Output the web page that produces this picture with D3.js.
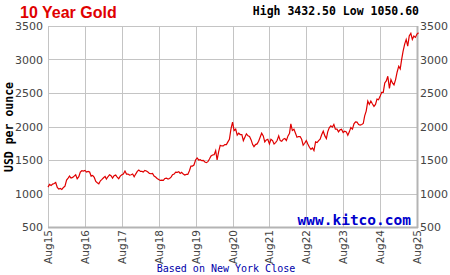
<!DOCTYPE html>
<html>
<head>
<meta charset="utf-8">
<script src="https://cdn.jsdelivr.net/npm/d3@7"></script>
<style>
body { margin: 0; background: #fff; }
svg { display: block; }
</style>
</head>
<body>
<div id="chart"></div>
<script>
// semi-monthly closes (1st and 16th of each month)
var p2015 = [1095, 1135, 1120, 1140, 1150, 1165, 1090, 1065, 1075, 1060]; // Aug-Dec
var p2016 = [1090, 1110, 1200, 1230, 1260, 1230, 1240, 1260, 1280, 1220, 1250, 1320,
             1340, 1335, 1345, 1320, 1330, 1320, 1260, 1270, 1240, 1180, 1160, 1145];
var p2017 = [1190, 1210, 1235, 1255, 1215, 1250, 1280, 1265, 1230, 1265, 1275, 1245,
             1220, 1260, 1280, 1290, 1335, 1290, 1290, 1275, 1280, 1290, 1250, 1290];
var p2018 = [1330, 1350, 1330, 1330, 1320, 1345, 1335, 1320, 1300, 1295, 1300, 1260,
             1245, 1225, 1210, 1195, 1200, 1195, 1225, 1230, 1215, 1225, 1245, 1280];
var p2019 = [1290, 1320, 1315, 1325, 1300, 1315, 1290, 1275, 1285, 1285, 1340, 1410,
             1410, 1425, 1500, 1530, 1500, 1505, 1490, 1495, 1470, 1460, 1475, 1515];
var p2020 = [1560, 1575, 1580, 1640, 1500, 1620, 1720, 1710, 1710, 1730, 1730, 1770,
             1810, 1960, 2067, 1940, 1960, 1870, 1900, 1880, 1880, 1790, 1840, 1890];
var p2021 = [1860, 1850, 1800, 1730, 1700, 1730, 1740, 1780, 1840, 1900, 1860, 1770,
             1800, 1810, 1740, 1810, 1790, 1740, 1760, 1790, 1860, 1790, 1780, 1810];
var p2022 = [1820, 1790, 1860, 1900, 2040, 1940, 1960, 1900, 1840, 1850, 1850, 1810,
             1720, 1750, 1790, 1740, 1690, 1660, 1680, 1640, 1770, 1760, 1790, 1810];
var p2023 = [1880, 1930, 1860, 1820, 1920, 1980, 2010, 1990, 2030, 1960, 1960, 1920,
             1950, 1960, 1910, 1930, 1920, 1870, 1920, 1985, 1960, 2040, 2070, 2065];
var p2024 = [2030, 2020, 2030, 2045, 2160, 2230, 2380, 2330, 2380, 2340, 2300, 2330,
             2410, 2400, 2450, 2510, 2510, 2650, 2680, 2750, 2570, 2700, 2650, 2620];
var p2025 = [2700, 2810, 2900, 2860, 2990, 3120, 3230, 3300, 3200, 3350, 3390, 3300,
             3350, 3330, 3380, 3400]; // Jan-Aug

var yTicks = [500, 1000, 1500, 2000, 2500, 3000, 3500];
var xTickYears = [2015, 2016, 2017, 2018, 2019, 2020, 2021, 2022, 2023, 2024, 2025];

var titleText = '10 Year Gold';
var rangeText = 'High 3432.50 Low 1050.60';
var yLabel = 'USD per ounce';
var sourceText = 'www.kitco.com';
var footText = 'Based on New York Close';

// build dated series
var allPrices = [].concat(p2015, p2016, p2017, p2018, p2019, p2020, p2021, p2022, p2023, p2024, p2025);
var data = [];
for (var i = 0; i < allPrices.length; i++) {
    var m = 7 + Math.floor(i / 2); // months from Jan 2015
    var day = (i % 2 === 0) ? 1 : 16;
    data.push({ date: new Date(2015, m, day), price: allPrices[i] });
}

var width = 450;
var height = 275;
var plotLeft = 48, plotRight = 417, plotTop = 26, plotBottom = 227;

var svg = d3.select('#chart').append('svg')
    .attr('width', width)
    .attr('height', height);

var x = d3.scaleTime()
    .domain([new Date(2015, 7, 1), new Date(2025, 7, 1)])
    .range([plotLeft, plotRight]);
var y = d3.scaleLinear().domain([500, 3500]).range([plotBottom, plotTop]);

// grid
svg.selectAll('.vgrid')
    .data(xTickYears)
    .enter().append('line')
    .attr('x1', function (d) { return Math.round(x(new Date(d, 7, 1))) + 0.5; })
    .attr('x2', function (d) { return Math.round(x(new Date(d, 7, 1))) + 0.5; })
    .attr('y1', plotTop)
    .attr('y2', plotBottom)
    .attr('stroke', '#c4c4c4')
    .attr('stroke-width', 1);

svg.selectAll('.hgrid')
    .data(yTicks)
    .enter().append('line')
    .attr('x1', plotLeft)
    .attr('x2', plotRight)
    .attr('y1', function (d) { return Math.round(y(d)) + 0.5; })
    .attr('y2', function (d) { return Math.round(y(d)) + 0.5; })
    .attr('stroke', '#c4c4c4')
    .attr('stroke-width', 1);

// right and bottom frame, a bit heavier
svg.append('line')
    .attr('x1', plotRight + 0.5).attr('x2', plotRight + 0.5)
    .attr('y1', plotTop).attr('y2', plotBottom + 1)
    .attr('stroke', '#b4b4b4').attr('stroke-width', 2);
svg.append('line')
    .attr('x1', plotLeft).attr('x2', plotRight + 1)
    .attr('y1', plotBottom + 0.5).attr('y2', plotBottom + 0.5)
    .attr('stroke', '#b4b4b4').attr('stroke-width', 2);

// y tick labels, both sides
var tickFont = '"DejaVu Sans", Verdana, sans-serif';
svg.selectAll('.ylab')
    .data(yTicks)
    .enter().append('text')
    .attr('x', plotLeft - 5)
    .attr('y', function (d) { return y(d) + 4; })
    .attr('text-anchor', 'end')
    .style('font-family', tickFont)
    .style('font-size', '11px')
    .attr('fill', '#444')
    .text(function (d) { return d; });

svg.selectAll('.ylabr')
    .data(yTicks)
    .enter().append('text')
    .attr('x', plotRight + 3)
    .attr('y', function (d) { return y(d) + 4; })
    .attr('text-anchor', 'start')
    .style('font-family', tickFont)
    .style('font-size', '11px')
    .attr('fill', '#444')
    .text(function (d) { return d; });

// x tick labels, rotated
svg.selectAll('.xlab')
    .data(xTickYears)
    .enter().append('text')
    .attr('transform', function (d) {
        return 'translate(' + (x(new Date(d, 7, 1)) + 4) + ',' + (plotBottom + 3) + ') rotate(-90)';
    })
    .attr('text-anchor', 'end')
    .style('font-family', tickFont)
    .style('font-size', '10.5px')
    .attr('fill', '#444')
    .text(function (d) { return 'Aug' + String(d).slice(2); });

// price line
var line = d3.line()
    .x(function (d) { return x(d.date); })
    .y(function (d) { return y(d.price); });

svg.append('path')
    .datum(data)
    .attr('d', line)
    .attr('fill', 'none')
    .attr('stroke', '#e00000')
    .attr('stroke-width', 1.2);

// texts
svg.append('text')
    .attr('x', 20).attr('y', 18)
    .style('font-family', '"Liberation Sans", Arial, sans-serif')
    .style('font-weight', 'bold')
    .style('font-size', '16px')
    .attr('fill', '#e00000')
    .text(titleText);

var mono = '"DejaVu Sans Mono", "Liberation Mono", monospace';
svg.append('text')
    .attr('x', 419).attr('y', 15)
    .attr('text-anchor', 'end')
    .style('font-family', mono)
    .style('font-weight', 'bold')
    .style('font-size', '11.5px')
    .attr('fill', '#000')
    .text(rangeText);

svg.append('text')
    .attr('transform', 'translate(13,127) rotate(-90)')
    .attr('text-anchor', 'middle')
    .style('font-family', mono)
    .style('font-weight', 'bold')
    .style('font-size', '11.5px')
    .attr('fill', '#000')
    .text(yLabel);

svg.append('text')
    .attr('x', 411).attr('y', 225)
    .attr('text-anchor', 'end')
    .style('font-family', mono)
    .style('font-weight', 'bold')
    .style('font-size', '14.5px')
    .attr('fill', '#0000cc')
    .text(sourceText);

svg.append('text')
    .attr('x', 226).attr('y', 272)
    .attr('text-anchor', 'middle')
    .style('font-family', mono)
    .style('font-size', '10px')
    .attr('fill', '#0000aa')
    .text(footText);
</script>
</body>
</html>
